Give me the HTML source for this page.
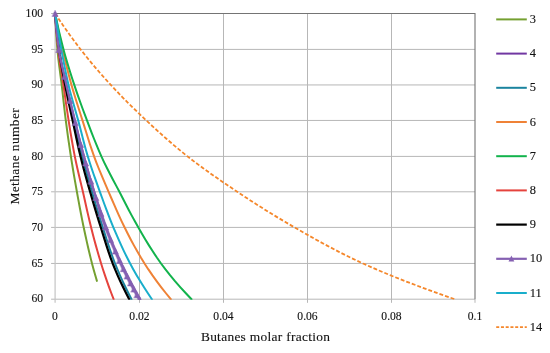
<!DOCTYPE html>
<html lang="en"><head><meta charset="utf-8"><title>Methane number vs butanes molar fraction</title>
<style>html,body{margin:0;padding:0;background:#fff}body{width:550px;height:353px;overflow:hidden;position:relative}
svg text{font-family:"Liberation Serif","DejaVu Serif",serif;fill:#111;stroke:#111;stroke-width:0.12px}</style></head><body>
<svg width="550" height="353" viewBox="0 0 550 353" style="position:absolute;left:0;top:0">
<rect width="550" height="353" fill="#fff"/>
<g stroke="#b7b7b7" stroke-width="1" fill="none"><line x1="51.1" y1="13.50" x2="475" y2="13.50"/><line x1="51.1" y1="49.40" x2="475" y2="49.40"/><line x1="51.1" y1="84.95" x2="475" y2="84.95"/><line x1="51.1" y1="120.45" x2="475" y2="120.45"/><line x1="51.1" y1="156.40" x2="475" y2="156.40"/><line x1="51.1" y1="191.80" x2="475" y2="191.80"/><line x1="51.1" y1="227.40" x2="475" y2="227.40"/><line x1="51.1" y1="263.45" x2="475" y2="263.45"/><line x1="51.1" y1="299.20" x2="475" y2="299.20"/><line x1="139.50" y1="13.5" x2="139.50" y2="302.8"/><line x1="223.50" y1="13.5" x2="223.50" y2="302.8"/><line x1="307.50" y1="13.5" x2="307.50" y2="302.8"/><line x1="391.50" y1="13.5" x2="391.50" y2="302.8"/></g>
<line x1="55.10" y1="13.5" x2="55.10" y2="302.8" stroke="#c4c4c4" stroke-width="1.2"/>
<line x1="475" y1="299.2" x2="475" y2="302.8" stroke="#b7b7b7" stroke-width="1"/>
<path d="M54.6 13.50H475V299.2" stroke="#747474" stroke-width="1.1" fill="none"/>
<clipPath id="c"><rect x="49.1" y="7.5" width="432.09999999999997" height="292.3"/></clipPath>
<g clip-path="url(#c)" fill="none" stroke-linejoin="round" stroke-linecap="round">
<path d="M55.20 13.50L55.41 19.07L55.68 24.64L56.00 30.21L56.36 35.78L56.77 41.35L57.20 46.92L57.67 52.50L58.26 58.07L58.93 63.64L59.66 69.21L60.40 74.78L61.13 80.35L61.81 85.92L62.46 91.49L63.08 97.06L63.70 102.63L64.33 108.20L64.98 113.77L65.66 119.35L66.38 124.92L67.12 130.49L67.89 136.06L68.69 141.63L69.51 147.20L70.34 152.77L71.20 158.34L72.09 163.91L73.01 169.48L73.95 175.05L74.92 180.62L75.90 186.20L76.89 191.77L77.90 197.34L78.92 202.91L79.96 208.48L81.02 214.05L82.11 219.62L83.24 225.19L84.41 230.76L85.61 236.33L86.84 241.90L88.11 247.47L89.42 253.05L90.78 258.62L92.19 264.19L93.68 269.76L95.26 275.33L96.90 280.90" stroke="#75a031" stroke-width="2"/>
<path d="M55.20 13.50L55.56 19.45L56.04 25.40L56.64 31.36L57.32 37.31L58.07 43.26L58.87 49.21L59.81 55.16L60.96 61.12L62.25 67.07L63.63 73.02L65.03 78.97L66.39 84.92L67.74 90.88L69.12 96.83L70.52 102.78L71.95 108.73L73.39 114.69L74.85 120.64L76.30 126.59L77.77 132.54L79.25 138.49L80.76 144.45L82.30 150.40L83.89 156.35L85.52 162.30L87.20 168.25L88.91 174.21L90.67 180.16L92.46 186.11L94.28 192.06L96.12 198.01L97.98 203.97L99.89 209.92L101.85 215.87L103.90 221.82L106.04 227.78L108.29 233.73L110.65 239.68L113.10 245.63L115.65 251.58L118.29 257.54L121.02 263.49L123.84 269.44L126.78 275.39L129.83 281.34L132.99 287.30L136.25 293.25L139.60 299.20" stroke="#7137a2" stroke-width="2"/>
<path d="M55.20 13.50L55.69 19.45L56.26 25.40L56.91 31.36L57.61 37.31L58.37 43.26L59.17 49.21L60.06 55.16L61.07 61.12L62.16 67.07L63.32 73.02L64.51 78.97L65.70 84.92L66.90 90.88L68.14 96.83L69.43 102.78L70.74 108.73L72.08 114.69L73.44 120.64L74.83 126.59L76.24 132.54L77.68 138.49L79.15 144.45L80.66 150.40L82.19 156.35L83.75 162.30L85.36 168.25L87.00 174.21L88.67 180.16L90.36 186.11L92.08 192.06L93.81 198.01L95.57 203.97L97.36 209.92L99.18 215.87L101.03 221.82L102.92 227.78L104.81 233.73L106.71 239.68L108.65 245.63L110.66 251.58L112.77 257.54L115.01 263.49L117.42 269.44L119.97 275.39L122.67 281.34L125.49 287.30L128.44 293.25L131.50 299.20" stroke="#1b849f" stroke-width="2"/>
<path d="M55.20 13.50L56.29 19.45L57.43 25.40L58.62 31.36L59.86 37.31L61.14 43.26L62.46 49.21L63.83 55.16L65.25 61.12L66.74 67.07L68.27 73.02L69.86 78.97L71.49 84.92L73.20 90.88L75.00 96.83L76.86 102.78L78.76 108.73L80.66 114.69L82.56 120.64L84.42 126.59L86.26 132.54L88.12 138.49L90.02 144.45L92.00 150.40L94.08 156.35L96.30 162.30L98.65 168.25L101.10 174.21L103.61 180.16L106.16 186.11L108.71 192.06L111.26 198.01L113.83 203.97L116.44 209.92L119.12 215.87L121.90 221.82L124.79 227.78L127.78 233.73L130.86 239.68L134.05 245.63L137.38 251.58L140.86 257.54L144.52 263.49L148.39 269.44L152.49 275.39L156.79 281.34L161.28 287.30L165.96 293.25L170.80 299.20" stroke="#ef8236" stroke-width="2"/>
<path d="M55.20 13.50L56.40 19.45L57.68 25.40L59.02 31.36L60.44 37.31L61.92 43.26L63.45 49.21L65.07 55.16L66.78 61.12L68.57 67.07L70.44 73.02L72.35 78.97L74.29 84.92L76.28 90.88L78.34 96.83L80.46 102.78L82.63 108.73L84.83 114.69L87.07 120.64L89.32 126.59L91.59 132.54L93.91 138.49L96.30 144.45L98.78 150.40L101.38 156.35L104.15 162.30L107.08 168.25L110.14 174.21L113.27 180.16L116.42 186.11L119.54 192.06L122.61 198.01L125.68 203.97L128.76 209.92L131.91 215.87L135.15 221.82L138.52 227.78L141.97 233.73L145.48 239.68L149.11 245.63L152.88 251.58L156.84 257.54L161.03 263.49L165.48 269.44L170.21 275.39L175.19 281.34L180.42 287.30L185.86 293.25L191.50 299.20" stroke="#12b34c" stroke-width="2"/>
<path d="M55.20 13.50L55.55 19.45L55.97 25.40L56.45 31.36L56.98 37.31L57.56 43.26L58.18 49.21L58.88 55.16L59.70 61.12L60.61 67.07L61.55 73.02L62.49 78.97L63.40 84.92L64.26 90.88L65.11 96.83L65.96 102.78L66.82 108.73L67.71 114.69L68.63 120.64L69.58 126.59L70.54 132.54L71.54 138.49L72.57 144.45L73.65 150.40L74.79 156.35L76.02 162.30L77.34 168.25L78.73 174.21L80.15 180.16L81.57 186.11L82.96 192.06L84.31 198.01L85.64 203.97L86.97 209.92L88.33 215.87L89.73 221.82L91.19 227.78L92.71 233.73L94.28 239.68L95.90 245.63L97.57 251.58L99.31 257.54L101.11 263.49L103.00 269.44L104.97 275.39L107.02 281.34L109.14 287.30L111.34 293.25L113.60 299.20" stroke="#e5433d" stroke-width="2"/>
<path d="M55.20 13.50L55.67 19.45L56.22 25.40L56.83 31.36L57.50 37.31L58.22 43.26L58.98 49.21L59.81 55.16L60.75 61.12L61.77 67.07L62.85 73.02L63.97 78.97L65.10 84.92L66.26 90.88L67.48 96.83L68.75 102.78L70.05 108.73L71.35 114.69L72.64 120.64L73.91 126.59L75.17 132.54L76.44 138.49L77.74 144.45L79.08 150.40L80.49 156.35L81.97 162.30L83.53 168.25L85.14 174.21L86.80 180.16L88.48 186.11L90.17 192.06L91.89 198.01L93.64 203.97L95.41 209.92L97.22 215.87L99.06 221.82L100.92 227.78L102.77 233.73L104.62 239.68L106.50 245.63L108.45 251.58L110.51 257.54L112.71 263.49L115.09 269.44L117.63 275.39L120.32 281.34L123.16 287.30L126.12 293.25L129.20 299.20" stroke="#000000" stroke-width="2.2"/>
<path d="M55.20 13.50L55.56 19.45L56.04 25.40L56.64 31.36L57.32 37.31L58.07 43.26L58.87 49.21L59.81 55.16L60.96 61.12L62.25 67.07L63.63 73.02L65.03 78.97L66.39 84.92L67.74 90.88L69.12 96.83L70.52 102.78L71.95 108.73L73.39 114.69L74.85 120.64L76.30 126.59L77.77 132.54L79.25 138.49L80.76 144.45L82.30 150.40L83.89 156.35L85.52 162.30L87.20 168.25L88.91 174.21L90.67 180.16L92.46 186.11L94.28 192.06L96.12 198.01L97.98 203.97L99.89 209.92L101.85 215.87L103.90 221.82L106.04 227.78L108.29 233.73L110.65 239.68L113.10 245.63L115.65 251.58L118.29 257.54L121.02 263.49L123.84 269.44L126.78 275.39L129.83 281.34L132.99 287.30L136.25 293.25L139.60 299.20" stroke="#8560b2" stroke-width="2.4"/>
<path d="M98.11 205.00L99.37 208.93L100.65 212.85L101.96 216.78L103.30 220.70L104.69 224.62L106.13 228.55L107.61 232.47L109.14 236.40L110.71 240.32L112.33 244.25L113.98 248.17L115.68 252.10L117.42 256.02L119.19 259.95L121.00 263.88L122.85 267.80L124.76 271.73L126.71 275.65L128.72 279.57L130.77 283.50L132.86 287.42L135.00 291.35L137.18 295.27L139.40 299.20" stroke="#8560b2" stroke-width="3.6" stroke-opacity="0.6" stroke-linecap="butt"/>
<path d="M55.20 13.50L56.13 19.45L57.10 25.40L58.09 31.36L59.12 37.31L60.18 43.26L61.27 49.21L62.37 55.16L63.50 61.12L64.67 67.07L65.88 73.02L67.15 78.97L68.49 84.92L69.96 90.88L71.54 96.83L73.21 102.78L74.91 108.73L76.61 114.69L78.25 120.64L79.82 126.59L81.36 132.54L82.88 138.49L84.44 144.45L86.06 150.40L87.79 156.35L89.63 162.30L91.59 168.25L93.62 174.21L95.72 180.16L97.85 186.11L99.99 192.06L102.14 198.01L104.31 203.97L106.51 209.92L108.78 215.87L111.12 221.82L113.56 227.78L116.07 233.73L118.67 239.68L121.35 245.63L124.14 251.58L127.06 257.54L130.12 263.49L133.35 269.44L136.75 275.39L140.31 281.34L144.03 287.30L147.90 293.25L151.90 299.20" stroke="#19aecb" stroke-width="2"/>
<path d="M55.20 13.50L59.06 19.45L63.07 25.40L67.22 31.36L71.51 37.31L75.92 43.26L80.46 49.21L85.13 55.16L89.97 61.12L94.96 67.07L100.10 73.02L105.37 78.97L110.78 84.92L116.34 90.88L122.07 96.83L127.97 102.78L134.02 108.73L140.20 114.69L146.50 120.64L152.90 126.59L159.42 132.54L166.10 138.49L172.97 144.45L180.07 150.40L187.44 156.35L195.14 162.30L203.18 168.25L211.50 174.21L220.07 180.16L228.81 186.11L237.69 192.06L246.71 198.01L255.92 203.97L265.34 209.92L275.01 215.87L284.93 221.82L295.15 227.78L305.56 233.73L316.17 239.68L327.08 245.63L338.44 251.58L350.37 257.54L362.98 263.49L376.41 269.44L390.66 275.39L405.67 281.34L421.40 287.30L437.79 293.25L454.80 299.20" stroke="#f5872b" stroke-width="1.8" stroke-dasharray="3.9 2" stroke-linecap="butt"/>
<path d="M55.20 10.60L58.10 16.40L52.30 16.40ZM58.93 46.70L61.83 52.50L56.03 52.50ZM64.49 73.80L67.39 79.60L61.59 79.60ZM70.01 97.70L72.91 103.50L67.11 103.50ZM75.35 119.80L78.25 125.60L72.45 125.60ZM80.77 141.60L83.67 147.40L77.87 147.40ZM85.77 160.30L88.67 166.10L82.87 166.10ZM91.01 178.40L93.91 184.20L88.11 184.20ZM96.02 194.80L98.92 200.60L93.12 200.60ZM101.06 210.60L103.96 216.40L98.16 216.40ZM105.75 224.10L108.65 229.90L102.85 229.90ZM110.66 236.80L113.56 242.60L107.76 242.60ZM115.49 248.30L118.39 254.10L112.59 254.10ZM119.64 257.60L122.54 263.40L116.74 263.40ZM123.53 265.90L126.43 271.70L120.63 271.70ZM127.19 273.30L130.09 279.10L124.29 279.10ZM130.70 280.10L133.60 285.90L127.80 285.90ZM134.02 286.30L136.92 292.10L131.12 292.10ZM137.11 291.90L140.01 297.70L134.21 297.70ZM139.71 296.50L142.61 302.30L136.81 302.30Z" fill="#8560b2" stroke="#8560b2" stroke-width="0.5" stroke-linejoin="miter"/>
</g>
<line x1="496.2" y1="19.4" x2="526.8" y2="19.4" stroke="#75a031" stroke-width="2"/>
<text x="529.8" y="23.0" font-size="12.4">3</text>
<line x1="496.2" y1="53.6" x2="526.8" y2="53.6" stroke="#7137a2" stroke-width="2"/>
<text x="529.8" y="57.2" font-size="12.4">4</text>
<line x1="496.2" y1="87.8" x2="526.8" y2="87.8" stroke="#1b849f" stroke-width="2"/>
<text x="529.8" y="91.4" font-size="12.4">5</text>
<line x1="496.2" y1="122.0" x2="526.8" y2="122.0" stroke="#ef8236" stroke-width="2"/>
<text x="529.8" y="125.6" font-size="12.4">6</text>
<line x1="496.2" y1="156.2" x2="526.8" y2="156.2" stroke="#12b34c" stroke-width="2"/>
<text x="529.8" y="159.8" font-size="12.4">7</text>
<line x1="496.2" y1="190.4" x2="526.8" y2="190.4" stroke="#e5433d" stroke-width="2"/>
<text x="529.8" y="194.0" font-size="12.4">8</text>
<line x1="496.2" y1="224.6" x2="526.8" y2="224.6" stroke="#000000" stroke-width="2.2"/>
<text x="529.8" y="228.2" font-size="12.4">9</text>
<line x1="496.2" y1="258.8" x2="526.8" y2="258.8" stroke="#8560b2" stroke-width="2.2"/>
<path d="M511.40 255.60L514.30 261.40L508.50 261.40Z" fill="#8560b2"/>
<text x="529.8" y="262.4" font-size="12.4">10</text>
<line x1="496.2" y1="293.0" x2="526.8" y2="293.0" stroke="#19aecb" stroke-width="2"/>
<text x="529.8" y="296.6" font-size="12.4">11</text>
<line x1="496.2" y1="327.2" x2="526.8" y2="327.2" stroke="#f5872b" stroke-width="1.8" stroke-dasharray="3 1.75"/>
<text x="529.8" y="330.8" font-size="12.4">14</text>
<text x="43" y="16.6" font-size="11.6" text-anchor="end">100</text>
<text x="43" y="52.5" font-size="11.6" text-anchor="end">95</text>
<text x="43" y="88.0" font-size="11.6" text-anchor="end">90</text>
<text x="43" y="123.5" font-size="11.6" text-anchor="end">85</text>
<text x="43" y="159.5" font-size="11.6" text-anchor="end">80</text>
<text x="43" y="194.9" font-size="11.6" text-anchor="end">75</text>
<text x="43" y="230.5" font-size="11.6" text-anchor="end">70</text>
<text x="43" y="266.6" font-size="11.6" text-anchor="end">65</text>
<text x="43" y="302.3" font-size="11.6" text-anchor="end">60</text>
<text x="55.0" y="319.8" font-size="11.6" text-anchor="middle">0</text>
<text x="139.5" y="319.8" font-size="11.6" text-anchor="middle">0.02</text>
<text x="223.5" y="319.8" font-size="11.6" text-anchor="middle">0.04</text>
<text x="307.5" y="319.8" font-size="11.6" text-anchor="middle">0.06</text>
<text x="391.5" y="319.8" font-size="11.6" text-anchor="middle">0.08</text>
<text x="475.0" y="319.8" font-size="11.6" text-anchor="middle">0.1</text>
<text x="265.4" y="341.3" font-size="13.4" text-anchor="middle" textLength="129" lengthAdjust="spacing">Butanes molar fraction</text>
<text transform="translate(19.4 156.4) rotate(-90)" font-size="13.4" text-anchor="middle" textLength="96.4" lengthAdjust="spacing">Methane number</text>
</svg>
</body></html>
